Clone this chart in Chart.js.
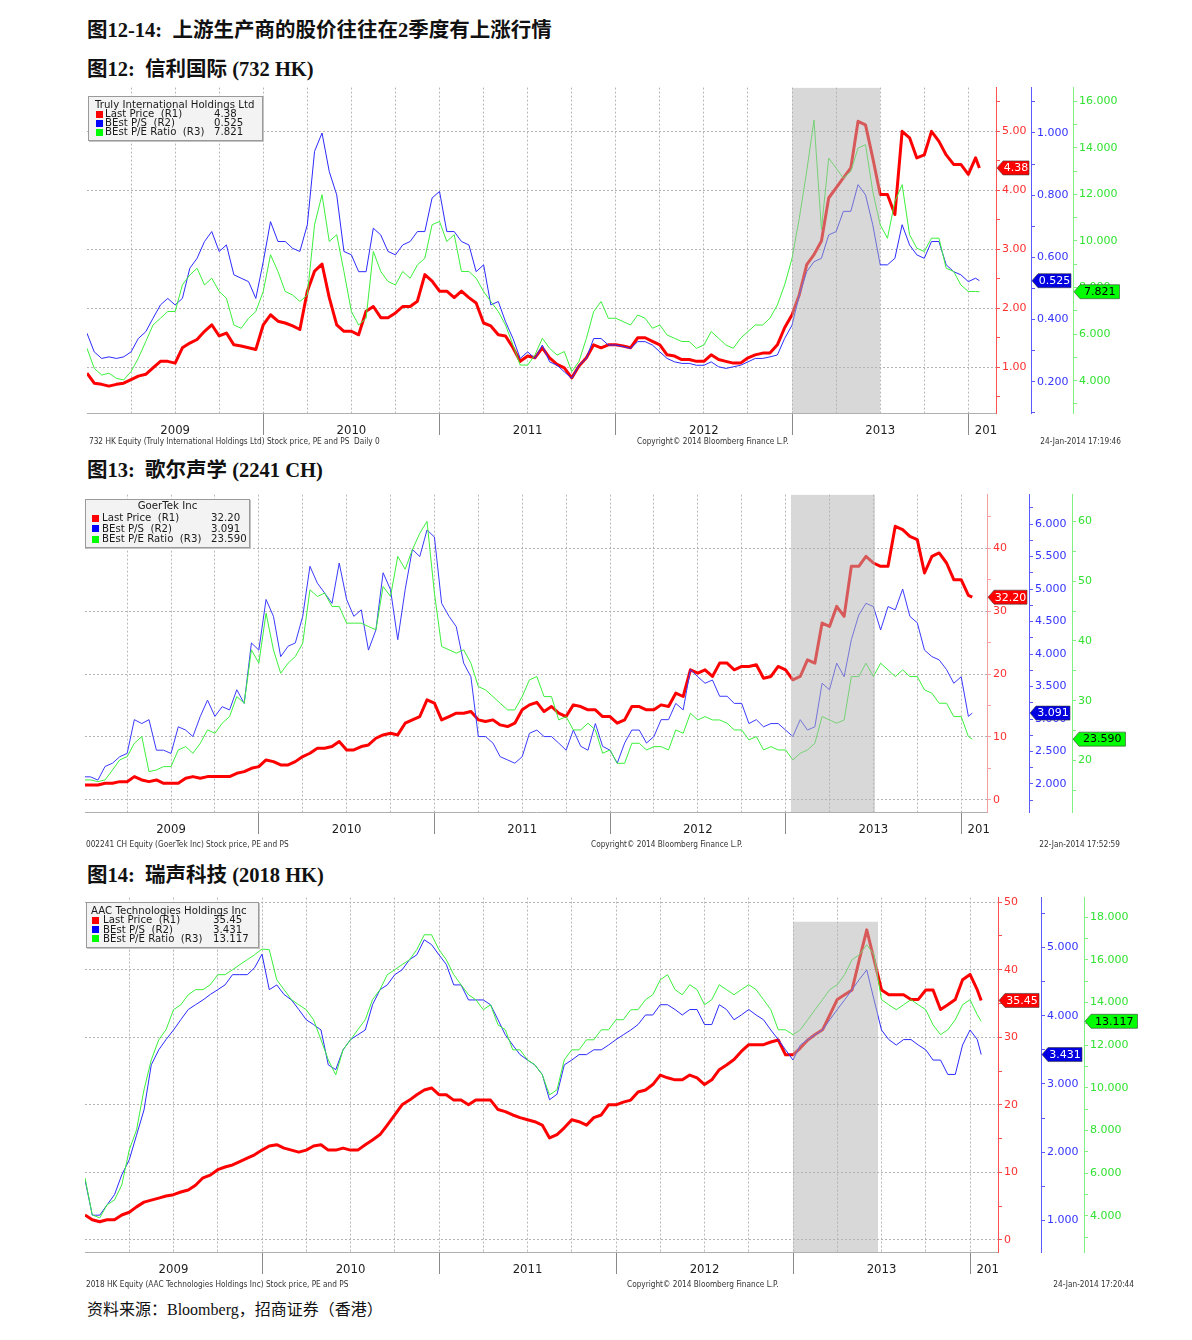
<!DOCTYPE html>
<html>
<head>
<meta charset="utf-8">
<title>图12-14</title>
<script src="https://cdn.jsdelivr.net/npm/chart.js@4.4.1/dist/chart.umd.min.js"></script>
<style>
  html, body { margin: 0; padding: 0; background: #fff; }
  #page { position: relative; width: 1192px; height: 1340px; overflow: hidden; }
  canvas { position: absolute; }
  .head { position: absolute; left: 87px; font-family: "Liberation Serif", "Noto Sans CJK SC", serif; font-weight: bold; font-size: 20.5px; line-height: 22px; white-space: nowrap; color: #111; }
  .src { font-weight: normal; font-size: 16px; }
  .lg { position: absolute; background: #f3f3f3; border: 1px solid #9a9a9a; box-shadow: 1px 1px 0 #c4c4c4; font-family: "DejaVu Sans", sans-serif; font-size: 10.2px; line-height: 10px; color: #1a1a1a; z-index: 2; }
  .lg div { position: absolute; white-space: nowrap; }
  .lg i { position: absolute; width: 7px; height: 7px; }
  .foot { position: absolute; font-family: "DejaVu Sans Condensed", "Liberation Sans Narrow", "DejaVu Sans", sans-serif; font-size: 8.2px; line-height: 9px; color: #333; white-space: nowrap; }
</style>
</head>
<body>
<div id="page">
  <div class="head" style="top:19px">图12-14:&nbsp; 上游生产商的股价往往在2季度有上涨行情</div>
  <div class="head" style="top:58px">图12:&nbsp; 信利国际 (732 HK)</div>
  <div class="head" style="top:459px">图13:&nbsp; 歌尔声学 (2241 CH)</div>
  <div class="head" style="top:864px">图14:&nbsp; 瑞声科技 (2018 HK)</div>
  <div class="head src" style="top:1299px">资料来源：Bloomberg，招商证券（香港）</div>

  <canvas id="c1"></canvas>
  <canvas id="c2"></canvas>
  <canvas id="c3"></canvas>

  <div class="lg" id="lg1" style="left:88px;top:96px;width:173px;height:43px"></div>
  <div class="lg" id="lg2" style="left:85px;top:499px;width:163px;height:47px"></div>
  <div class="lg" id="lg3" style="left:86px;top:902px;width:171px;height:44px"></div>

  <div class="foot" style="left:89px;top:437px">732 HK Equity (Truly International Holdings Ltd) Stock price, PE and PS&nbsp; Daily 0</div>
  <div class="foot" style="left:637px;top:437px">Copyright© 2014 Bloomberg Finance L.P.</div>
  <div class="foot" style="right:71px;top:437px">24-Jan-2014 17:19:46</div>

  <div class="foot" style="left:86px;top:840px">002241 CH Equity (GoerTek Inc) Stock price, PE and PS</div>
  <div class="foot" style="left:591px;top:840px">Copyright© 2014 Bloomberg Finance L.P.</div>
  <div class="foot" style="right:72px;top:840px">22-Jan-2014 17:52:59</div>

  <div class="foot" style="left:86px;top:1280px">2018 HK Equity (AAC Technologies Holdings Inc) Stock price, PE and PS</div>
  <div class="foot" style="left:627px;top:1280px">Copyright© 2014 Bloomberg Finance L.P.</div>
  <div class="foot" style="right:58px;top:1280px">24-Jan-2014 17:20:44</div>
</div>

<script>
// half-month sample dates (last one is the chart date)
const halfMonths = [
  '2009-01','2009-01-16','2009-02','2009-02-16','2009-03','2009-03-16','2009-04','2009-04-16','2009-05','2009-05-16','2009-06','2009-06-16',
  '2009-07','2009-07-16','2009-08','2009-08-16','2009-09','2009-09-16','2009-10','2009-10-16','2009-11','2009-11-16','2009-12','2009-12-16',
  '2010-01','2010-01-16','2010-02','2010-02-16','2010-03','2010-03-16','2010-04','2010-04-16','2010-05','2010-05-16','2010-06','2010-06-16',
  '2010-07','2010-07-16','2010-08','2010-08-16','2010-09','2010-09-16','2010-10','2010-10-16','2010-11','2010-11-16','2010-12','2010-12-16',
  '2011-01','2011-01-16','2011-02','2011-02-16','2011-03','2011-03-16','2011-04','2011-04-16','2011-05','2011-05-16','2011-06','2011-06-16',
  '2011-07','2011-07-16','2011-08','2011-08-16','2011-09','2011-09-16','2011-10','2011-10-16','2011-11','2011-11-16','2011-12','2011-12-16',
  '2012-01','2012-01-16','2012-02','2012-02-16','2012-03','2012-03-16','2012-04','2012-04-16','2012-05','2012-05-16','2012-06','2012-06-16',
  '2012-07','2012-07-16','2012-08','2012-08-16','2012-09','2012-09-16','2012-10','2012-10-16','2012-11','2012-11-16','2012-12','2012-12-16',
  '2013-01','2013-01-16','2013-02','2013-02-16','2013-03','2013-03-16','2013-04','2013-04-16','2013-05','2013-05-16','2013-06','2013-06-16',
  '2013-07','2013-07-16','2013-08','2013-08-16','2013-09','2013-09-16','2013-10','2013-10-16','2013-11','2013-11-16','2013-12','2013-12-16',
  '2014-01','2014-01-16','2014-01-24'
];

// x axis year labels ("201" is the clipped 2014 label)
const yearLabels = ['2009', '2010', '2011', '2012', '2013', '201'];
const yearLabelAt = [2009.5, 2010.5, 2011.5, 2012.5, 2013.5, 2014.1];

const seriesNames = ['Last Price\u00a0 (R1)', 'BEst P/S\u00a0 (R2)', 'BEst P/E Ratio\u00a0 (R3)'];

// --- 732 HK Truly International ---
const trulyPrice = [
  0.90,0.73, 0.71,0.68, 0.71,0.73, 0.79,0.85, 0.88,0.99, 1.10,1.10, 1.07,1.33, 1.41,1.47, 1.61,1.72, 1.53,1.58, 1.38,1.36, 1.33,1.30,
  1.72,1.89, 1.78,1.75, 1.70,1.64, 2.29,2.63, 2.75,2.18, 1.72,1.61, 1.61,1.55, 1.95,2.03, 1.84,1.84, 1.92,2.03, 2.03,2.12, 2.57,2.46,
  2.29,2.29, 2.18,2.29, 2.18,2.09, 1.75,1.70, 1.55,1.53, 1.33,1.10, 1.19,1.16, 1.33,1.16, 1.05,0.99, 0.82,1.02, 1.16,1.38, 1.33,1.38,
  1.38,1.36, 1.33,1.50, 1.50,1.44, 1.38,1.21, 1.19,1.13, 1.13,1.10, 1.10,1.21, 1.13,1.10, 1.07,1.07, 1.16,1.21, 1.24,1.24, 1.38,1.67,
  1.89,2.23, 2.74,2.91, 3.14,3.87, 4.04,4.21, 4.38,5.17, 5.11,4.55, 3.93,3.93, 3.59,5.00, 4.89,4.55, 4.60,5.00, 4.83,4.60, 4.44,4.44,
  4.27,4.55, 4.38
];
const trulyPS = [
  0.356,0.296, 0.275,0.280, 0.275,0.280, 0.296,0.339, 0.361,0.404, 0.447,0.468, 0.447,0.468, 0.565,0.597, 0.651,0.683, 0.619,0.640, 0.544,0.533, 0.522,0.468,
  0.586,0.715, 0.651,0.651, 0.629,0.619, 0.705,0.941, 1.00,0.876, 0.801,0.619, 0.608,0.554, 0.554,0.694, 0.672,0.619, 0.608,0.640, 0.651,0.683, 0.683,0.791,
  0.812,0.683, 0.683,0.651, 0.640,0.554, 0.576,0.447, 0.458,0.393, 0.339,0.275, 0.296,0.275, 0.318,0.264, 0.253,0.232, 0.211,0.253, 0.275,0.339, 0.339,0.318,
  0.318,0.313, 0.307,0.329, 0.329,0.318, 0.296,0.275, 0.264,0.259, 0.259,0.253, 0.253,0.264, 0.248,0.243, 0.248,0.253, 0.264,0.275, 0.275,0.280, 0.286,0.339,
  0.382,0.479, 0.554,0.586, 0.597,0.672, 0.683,0.748, 0.748,0.834, 0.801,0.705, 0.576,0.576, 0.597,0.705, 0.640,0.608, 0.597,0.651, 0.651,0.576, 0.554,0.544,
  0.522,0.533, 0.525
];
const trulyPE = [
  5.39,4.53, 4.24,4.32, 4.10,4.03, 4.39,4.96, 5.68,6.39, 6.68,6.97, 6.97,8.11, 8.54,8.83, 8.11,8.40, 7.83,7.54, 6.39,6.25, 6.68,6.97,
  7.83,9.41, 8.69,7.83, 7.68,7.40, 7.68,10.70, 11.99,9.98, 10.27,8.69, 6.97,6.39, 6.68,9.55, 8.69,8.26, 8.11,8.69, 8.40,8.97, 9.26,10.70,
  10.84,9.98, 10.27,8.69, 8.69,8.40, 7.83,7.40, 6.97,6.39, 5.53,4.67, 4.67,5.10, 5.82,5.39, 5.10,5.25, 4.39,4.82, 5.82,6.97, 7.40,6.68,
  6.68,6.54, 6.39,6.82, 6.68,6.25, 6.39,5.96, 5.82,5.68, 5.68,5.39, 5.53,6.11, 5.82,5.53, 5.39,5.82, 6.11,6.39, 6.39,6.68, 7.25,8.11,
  9.26,10.98, 13.0,15.2, 10.5,13.56, 13.13,12.70, 12.99,13.99, 14.14,12.13, 10.70,10.12, 11.70,12.42, 10.27,9.69, 9.55,10.12, 10.12,8.83, 8.69,8.11,
  7.83,7.83, 7.821
];
const trulyLast = ['4.38', '0.525', '7.821'];
const trulyPriceTicks = [1, 2, 3, 4, 5];
const trulyPSTicks = [0.2, 0.4, 0.6, 0.8, 1.0];
const trulyPETicks = [4, 6, 8, 10, 12, 14, 16];
const trulyShade = [2013.0, 2013.5];

// --- 2241 CH GoerTek ---
const goertekPrice = [
  2.38,2.38, 2.38,2.65, 2.65,2.91, 2.91,3.71, 3.18,2.91, 3.18,2.65, 2.65,2.65, 3.44,3.71, 3.44,3.71, 3.71,3.71, 3.71,4.24, 4.50,5.03,
  5.30,6.36, 6.09,5.56, 5.56,6.09, 6.89,7.42, 8.21,8.21, 8.48,9.27, 7.95,7.95, 8.48,8.74, 9.80,10.33, 10.60,10.33, 12.19,12.72, 13.25,15.90,
  15.37,12.72, 13.25,13.78, 13.78,14.04, 12.72,12.45, 12.72,11.92, 11.66,12.19, 14.31,15.10, 15.50,14.04, 14.84,13.78, 13.25,15.10, 14.84,14.31, 14.31,13.25,
  13.25,12.19, 12.72,14.84, 14.84,14.31, 14.31,15.10, 14.84,16.96, 16.43,20.67, 20.14,20.67, 19.61,21.73, 21.73,20.67, 21.20,21.20, 21.46,19.34, 19.61,21.20,
  20.67,19.08, 19.61,22.26, 21.73,28.09, 27.56,30.74, 29.15,37.10, 37.10,38.69, 37.63,37.10, 37.10,43.45, 42.93,41.86, 41.34,36.04, 38.69,39.22, 37.63,34.98,
  34.98,32.5, 32.20
];
const goertekPS = [
  2.11,2.11, 2.06,2.27, 2.32,2.42, 2.47,2.99, 2.93,2.99, 2.52,2.52, 2.47,2.88, 2.83,2.73, 3.04,3.29, 3.04,3.19, 3.14,3.45, 3.24,4.17,
  4.06,4.84, 4.58,3.96, 4.12,4.17, 4.58,5.35, 5.09,4.94, 4.78,5.40, 4.84,4.58, 4.68,4.06, 4.37,5.25, 4.99,4.22, 4.99,5.61, 5.50,5.91,
  5.80,4.78, 4.58,4.42, 3.86,3.65, 2.73,2.73, 2.63,2.42, 2.37,2.32, 2.42,2.78, 2.83,2.73, 2.73,2.63, 2.52,2.83, 2.58,2.52, 2.93,2.58,
  2.52,2.32, 2.63,2.83, 2.83,2.63, 2.73,2.99, 2.99,3.24, 3.14,3.76, 3.65,3.55, 3.60,3.35, 3.35,3.24, 3.24,2.93, 2.99,2.88, 2.93,2.93,
  2.83,2.73, 2.99,2.83, 2.88,3.55, 3.45,3.86, 3.65,4.22, 4.60,4.78, 4.73,4.37, 4.73,4.68, 5.00,4.58, 4.48,4.06, 3.96,3.91, 3.76,3.55,
  3.65,3.04, 3.091
];
const goertekPE = [
  16.77,16.77, 16.49,16.77, 18.44,20.11, 20.67,22.90, 24.02,18.16, 18.44,19.00, 19.00,21.78, 22.34,21.23, 22.90,25.13, 24.57,26.25, 27.36,30.71, 29.59,38.52,
  36.29,44.65, 38.52,34.61, 36.29,37.40, 39.63,48.56, 47.44,48.00, 45.77,45.77, 42.98,42.98, 42.98,42.42, 41.86,49.11, 47.44,54.13, 52.0,55.25, 58.0,60.0,
  48.0,39.07, 38.52,37.96, 38.52,36.29, 32.38,31.82, 30.71,29.59, 28.48,28.48, 30.71,33.50, 34.05,30.71, 30.71,26.80, 27.36,25.13, 25.13,26.25, 25.13,21.23,
  21.78,19.55, 19.55,22.90, 22.90,21.78, 22.34,22.34, 21.78,25.13, 24.57,27.92, 26.80,27.36, 26.80,26.80, 26.25,25.13, 25.13,23.46, 24.02,21.78, 22.34,21.78,
  21.78,20.11, 21.23,21.78, 22.90,27.36, 26.80,26.25, 26.80,34.05, 34.05,36.29, 34.05,36.29, 35.17,34.05, 35.17,34.05, 34.05,31.82, 31.27,29.59, 29.59,27.36,
  27.36,24.02, 23.59
];
const goertekLast = ['32.20', '3.091', '23.590'];
const goertekPriceTicks = [0, 10, 20, 30, 40];
const goertekPSTicks = [2.0, 2.5, 3.0, 3.5, 4.0, 4.5, 5.0, 5.5, 6.0];
const goertekPETicks = [20, 30, 40, 50, 60];
const goertekShade = [2013.03, 2013.51];

// --- 2018 HK AAC Technologies ---
const aacPrice = [
  3.7,3.0, 2.7,3.0, 3.0,3.7, 4.1,4.9, 5.6,5.9, 6.2,6.5, 6.7,7.1, 7.4,8.1, 9.2,9.6, 10.4,10.8, 11.1,11.6, 12.1,12.6,
  13.3,13.9, 14.1,13.6, 13.3,13.0, 13.3,13.9, 14.1,13.3, 13.3,13.6, 13.3,13.3, 14.1,14.8, 15.6,17.0, 18.5,20.0, 20.7,21.5, 22.2,22.5,
  21.5,21.5, 20.7,20.7, 20.0,20.7, 20.7,20.7, 19.3,19.0, 18.5,18.1, 17.8,17.5, 17.0,15.1, 15.6,16.6, 17.8,17.5, 17.0,18.1, 18.5,20.0,
  20.0,20.4, 20.7,21.9, 22.2,23.0, 24.4,24.0, 23.7,23.7, 24.4,24.0, 23.0,23.7, 25.2,25.9, 26.7,27.9, 28.9,28.9, 28.9,29.3, 29.6,27.4,
  27.4,28.4, 29.6,30.4, 31.1,33.3, 35.6,36.3, 37.0,41.5, 45.9,41.5, 37.0,36.3, 36.3,36.3, 35.6,35.6, 37.0,37.0, 34.1,34.8, 35.6,38.5,
  39.3,37.0, 35.45
];
const aacPS = [
  1.60,1.08, 1.08,1.23, 1.38,1.67, 1.89,2.25, 2.62,3.28, 3.50,3.65, 3.79,3.94, 4.09,4.16, 4.23,4.31, 4.38,4.45, 4.60,4.60, 4.60,4.70,
  4.90,4.38, 4.45,4.31, 4.23,4.09, 3.94,3.87, 3.79,3.28, 3.21,3.50, 3.65,3.72, 3.79,4.16, 4.38,4.45, 4.60,4.67, 4.82,4.89, 5.11,5.04,
  4.89,4.75, 4.45,4.45, 4.23,4.23, 4.23,4.16, 3.94,3.72, 3.57,3.43, 3.35,3.28, 3.14,2.77, 2.85,3.28, 3.35,3.43, 3.43,3.50, 3.50,3.57,
  3.65,3.72, 3.79,3.87, 4.01,4.01, 4.16,4.16, 4.09,4.01, 4.09,4.09, 3.87,3.87, 4.16,4.09, 3.94,4.01, 4.09,4.01, 3.94,3.79, 3.65,3.50,
  3.35,3.57, 3.65,3.72, 3.79,3.94, 4.09,4.23, 4.38,4.53, 4.67,4.23, 3.79,3.65, 3.57,3.65, 3.65,3.57, 3.50,3.35, 3.35,3.14, 3.14,3.57,
  3.79,3.65, 3.431
];
const aacPE = [
  5.78,4.05, 3.91,4.52, 4.75,5.45, 7.09,8.03, 9.91,11.31, 12.25,12.72, 13.66,13.89, 14.36,14.60, 14.60,14.83, 15.30,15.30, 15.53,15.77, 16.00,16.23,
  16.50,16.47, 15.06,14.60, 14.13,13.89, 13.66,13.19, 12.25,11.31, 10.61,11.78, 12.25,12.72, 13.19,14.13, 14.60,15.30, 15.53,15.77, 16.00,16.47, 17.17,17.17,
  16.47,16.00, 15.30,14.83, 14.36,14.13, 13.66,13.89, 12.95,12.72, 11.78,11.78, 11.31,11.08, 10.61,9.67, 9.91,11.31, 11.78,11.78, 12.25,12.25, 12.72,12.72,
  13.19,13.19, 13.66,13.66, 14.13,14.36, 15.06,15.30, 14.60,14.36, 14.83,14.60, 13.89,14.13, 14.83,14.60, 14.36,14.60, 14.83,14.60, 14.13,13.66, 12.72,12.72,
  12.49,12.72, 13.19,13.66, 14.13,14.60, 14.83,15.30, 16.00,16.23, 16.70,16.23, 14.13,13.89, 13.66,13.89, 14.13,13.89, 13.66,12.95, 12.49,12.72, 13.19,13.89,
  14.13,13.42, 13.117
];
const aacLast = ['35.45', '3.431', '13.117'];
const aacPriceTicks = [0, 10, 20, 30, 40, 50];
const aacPSTicks = [1, 2, 3, 4, 5];
const aacPETicks = [4, 6, 8, 10, 12, 14, 16, 18];
const aacShade = [2013.0, 2013.48];

function toYear(s) {
  const p = s.split('-').map(Number);
  return p[0] + (p[1] - 1) / 12 + (p[2] ? (p[2] - 1) / 365 : 0);
}

function isMajor(majors, v) {
  return majors.some(m => Math.abs(m - v) < 1e-6);
}

// major ticks plus half-step minor ticks within the axis range
function tickList(majors, min, max) {
  const half = (majors[1] - majors[0]) / 2;
  const out = [];
  let v = majors[0] - half * Math.floor((majors[0] - min) / half);
  for (; v <= max + 1e-9; v += half) {
    const r = Math.round(v * 1e6) / 1e6;
    if (r >= min) out.push(r);
  }
  return out;
}

// price tags on the right axes
const tagPlugin = {
  id: 'tags',
  afterDraw(chart) {
    const ctx = chart.ctx;
    chart.data.datasets.forEach(ds => {
      if (!ds.tag) return;
      const scale = chart.scales[ds.yAxisID];
      const y = scale.getPixelForValue(ds.data[ds.data.length - 1].y);
      ctx.save();
      ctx.font = '11px "DejaVu Sans", sans-serif';
      const tw = ctx.measureText(ds.tag).width;
      const x0 = scale.left + 1, nose = 6, h = 14;
      const x1 = Math.min(scale.right - 2, x0 + nose + tw + 8);
      ctx.beginPath();
      ctx.moveTo(x0, y);
      ctx.lineTo(x0 + nose, y - h / 2);
      ctx.lineTo(x1, y - h / 2);
      ctx.lineTo(x1, y + h / 2);
      ctx.lineTo(x0 + nose, y + h / 2);
      ctx.closePath();
      ctx.fillStyle = ds.tagFill;
      ctx.fill();
      ctx.strokeStyle = 'rgba(60,60,60,0.6)';
      ctx.lineWidth = 1;
      ctx.stroke();
      ctx.fillStyle = ds.tagInk;
      ctx.textAlign = 'center';
      ctx.textBaseline = 'middle';
      ctx.fillText(ds.tag, (x0 + nose + x1) / 2, y + 0.5);
      ctx.restore();
    });
  }
};

function xAxis(xMin, xMax) {
  const ticks = [];
  for (let q = 0; q <= 20; q++) ticks.push(2009 + q / 4);
  yearLabelAt.forEach(v => { if (!ticks.some(t => Math.abs(t - v) < 1e-6)) ticks.push(v); });
  ticks.sort((a, b) => a - b);
  const isQuarter = v => Math.abs(v * 4 - Math.round(v * 4)) < 1e-6;
  return {
    type: 'linear', position: 'bottom', min: xMin, max: xMax,
    afterBuildTicks: ax => { ax.ticks = ticks.filter(v => v >= xMin - 1e-9 && v <= xMax).map(v => ({ value: v })); },
    afterFit: ax => { ax.height = 28; },
    ticks: {
      autoSkip: false, maxRotation: 0, minRotation: 0, padding: -12, color: '#1e1e1e',
      font: { family: '"DejaVu Sans Condensed", "Liberation Sans Narrow", "DejaVu Sans", sans-serif', size: 13 },
      callback: v => { const k = yearLabelAt.findIndex(t => Math.abs(t - v) < 1e-6); return k >= 0 ? yearLabels[k] : ''; }
    },
    grid: {
      drawOnChartArea: true, tickLength: 22, lineWidth: 1,
      color: c => (c.tick && isQuarter(c.tick.value) && c.tick.value > xMin + 0.01) ? '#b8b8b8' : 'transparent',
      tickColor: c => (c.tick && Math.abs(c.tick.value - Math.round(c.tick.value)) < 1e-6 && c.tick.value > xMin + 0.01) ? '#8a8a8a' : 'transparent'
    },
    border: { display: true, color: '#b0b0b0', dash: [2, 2] }
  };
}

function yAxis(a, i) {
  return {
    type: 'linear', position: 'right', weight: i, min: a.min, max: a.max,
    afterBuildTicks: ax => { ax.ticks = tickList(a.majors, a.min, a.max).map(v => ({ value: v })); },
    afterFit: ax => { ax.width = a.width; },
    ticks: {
      color: a.ink, padding: 2, autoSkip: false,
      font: { family: '"DejaVu Sans", sans-serif', size: 11 },
      callback: v => isMajor(a.majors, v) ? v.toFixed(a.dec) : ''
    },
    grid: {
      drawOnChartArea: !!a.grid, lineWidth: 1, tickLength: 4, tickColor: a.line,
      color: c => (c.tick && isMajor(a.majors, c.tick.value)) ? '#b4b4b4' : 'transparent'
    },
    border: { display: true, color: a.line, width: 1, dash: [2, 2] }
  };
}

function config(opt) {
  const xs = halfMonths.map(toYear);
  const pts = arr => arr.map((v, i) => ({ x: xs[i], y: v }));
  const scales = { x: xAxis(opt.xMin, opt.xMax) };
  opt.axes.forEach((a, i) => { scales[a.id] = yAxis(a, i); });
  const datasets = [{
    label: 'shade',
    data: [{ x: opt.shade[0], y: opt.shadeTop }, { x: opt.shade[1], y: opt.shadeTop }],
    yAxisID: 'r1', fill: 'start', backgroundColor: 'rgba(178,178,178,0.5)',
    borderColor: 'transparent', borderWidth: 0, pointRadius: 0, order: 0
  }];
  opt.series.forEach((s, i) => {
    datasets.push({
      label: seriesNames[i], data: pts(s.data), yAxisID: opt.axes[i].id,
      borderColor: s.color, borderWidth: s.width, pointRadius: 0, tension: 0,
      borderJoinStyle: 'round', fill: false, order: 3 - i,
      tag: opt.last[i], tagFill: s.tagFill, tagInk: s.tagInk
    });
  });
  return {
    type: 'line',
    data: { datasets },
    options: {
      responsive: false, devicePixelRatio: 1, animation: false, events: [],
      layout: { padding: 0 },
      plugins: { legend: { display: false }, tooltip: { enabled: false } },
      scales
    },
    plugins: [tagPlugin]
  };
}

// create, then resize/move the canvas so the plot area lands on the box
function makeChart(id, box, axesW, opt) {
  const canvas = document.getElementById(id);
  let w = (box.right - box.left) + axesW;
  let h = (box.bottom - box.top) + 28 + 10;
  let chart;
  for (let pass = 0; pass < 3; pass++) {
    canvas.width = w; canvas.height = h;
    canvas.style.width = w + 'px'; canvas.style.height = h + 'px';
    chart = new Chart(canvas, config(opt));
    const a = chart.chartArea;
    const nw = Math.round(a.left + (box.right - box.left) + (w - a.right));
    const nh = Math.round(a.top + (box.bottom - box.top) + (h - a.bottom));
    if (pass < 2 && (nw !== w || nh !== h)) { chart.destroy(); w = nw; h = nh; continue; }
    canvas.style.left = (box.left - a.left) + 'px';
    canvas.style.top = (box.top - a.top) + 'px';
    break;
  }
  return chart;
}

function legend(id, title, values, o) {
  const el = document.getElementById(id);
  const colors = ['#ff0000', '#0000ff', '#00ff00'];
  let html = '<div style="' + (o.center ? 'left:0;width:100%;text-align:center' : 'left:' + o.titleLeft + 'px') + ';top:' + o.titleTop + 'px">' + title + '</div>';
  seriesNames.forEach((n, i) => {
    const t = o.rowTop + i * o.gap;
    html += '<i style="left:' + o.swLeft + 'px;top:' + (t + 1.5) + 'px;background:' + colors[i] + '"></i>';
    html += '<div style="left:' + o.textLeft + 'px;top:' + t + 'px">' + n + '</div>';
    html += '<div style="left:' + o.valLeft + 'px;top:' + t + 'px">' + values[i] + '</div>';
  });
  el.innerHTML = html;
}

const redA = { line: '#ff5050', ink: '#ff3030' };
const blueA = { line: '#5a5aff', ink: '#3434ff' };
const greenA = { line: '#80f080', ink: '#33e233' };

makeChart('c1', { left: 87, top: 88, right: 996, bottom: 413 }, 35 + 42 + 56, {
  xMin: 2009.0, xMax: 2014.157, shade: trulyShade, shadeTop: 5.742, last: trulyLast,
  axes: [
    Object.assign({ id: 'r1', min: 0.224, max: 5.742, majors: trulyPriceTicks, dec: 2, width: 35, grid: true }, redA),
    Object.assign({ id: 'r2', min: 0.0995, max: 1.146, majors: trulyPSTicks, dec: 3, width: 42 }, blueA),
    Object.assign({ id: 'r3', min: 2.61, max: 16.59, majors: trulyPETicks, dec: 3, width: 56 }, greenA)
  ],
  series: [
    { data: trulyPrice, color: '#ff0000', width: 3, tagFill: '#ff0000', tagInk: '#fff' },
    { data: trulyPS, color: '#2b2bff', width: 1, tagFill: '#0000e0', tagInk: '#fff' },
    { data: trulyPE, color: '#3cf03c', width: 1, tagFill: '#00ff00', tagInk: '#000' }
  ]
});

makeChart('c2', { left: 85, top: 495, right: 987, bottom: 812 }, 42 + 43 + 56, {
  xMin: 2009.01, xMax: 2014.147, shade: goertekShade, shadeTop: 48.49, last: goertekLast,
  axes: [
    Object.assign({ id: 'r1', min: -1.91, max: 48.49, majors: goertekPriceTicks, dec: 0, width: 42, grid: true }, redA, { line: '#f4a0a0' }),
    Object.assign({ id: 'r2', min: 1.569, max: 6.453, majors: goertekPSTicks, dec: 3, width: 43 }, blueA),
    Object.assign({ id: 'r3', min: 11.41, max: 64.47, majors: goertekPETicks, dec: 0, width: 56 }, greenA)
  ],
  series: [
    { data: goertekPrice, color: '#ff0000', width: 3, tagFill: '#ff0000', tagInk: '#fff' },
    { data: goertekPS, color: '#3a3aff', width: 1, tagFill: '#0000e0', tagInk: '#fff' },
    { data: goertekPE, color: '#3cf03c', width: 1, tagFill: '#00ff00', tagInk: '#000' }
  ]
});

makeChart('c3', { left: 85, top: 898, right: 998, bottom: 1252 }, 43 + 43 + 56, {
  xMin: 2009.0, xMax: 2014.158, shade: aacShade, shadeTop: 47.1, last: aacLast,
  axes: [
    Object.assign({ id: 'r1', min: -1.78, max: 50.67, majors: aacPriceTicks, dec: 0, width: 43, grid: true }, redA),
    Object.assign({ id: 'r2', min: 0.541, max: 5.728, majors: aacPSTicks, dec: 3, width: 43 }, blueA),
    Object.assign({ id: 'r3', min: 2.312, max: 18.91, majors: aacPETicks, dec: 3, width: 56 }, greenA)
  ],
  series: [
    { data: aacPrice, color: '#ff0000', width: 3, tagFill: '#ff0000', tagInk: '#fff' },
    { data: aacPS, color: '#2b2bff', width: 1, tagFill: '#0000e0', tagInk: '#fff' },
    { data: aacPE, color: '#3cf03c', width: 1, tagFill: '#00ff00', tagInk: '#000' }
  ]
});

legend('lg1', 'Truly International Holdings Ltd', trulyLast, { center: false, titleLeft: 6, titleTop: 3, rowTop: 12, gap: 9.2, swLeft: 7, textLeft: 16, valLeft: 125 });
legend('lg2', 'GoerTek Inc', goertekLast, { center: true, titleTop: 1, rowTop: 13, gap: 10.6, swLeft: 6, textLeft: 16, valLeft: 125 });
legend('lg3', 'AAC Technologies Holdings Inc', aacLast, { center: false, titleLeft: 4, titleTop: 3, rowTop: 12.3, gap: 9.3, swLeft: 5, textLeft: 16, valLeft: 126 });
</script>
</body>
</html>
